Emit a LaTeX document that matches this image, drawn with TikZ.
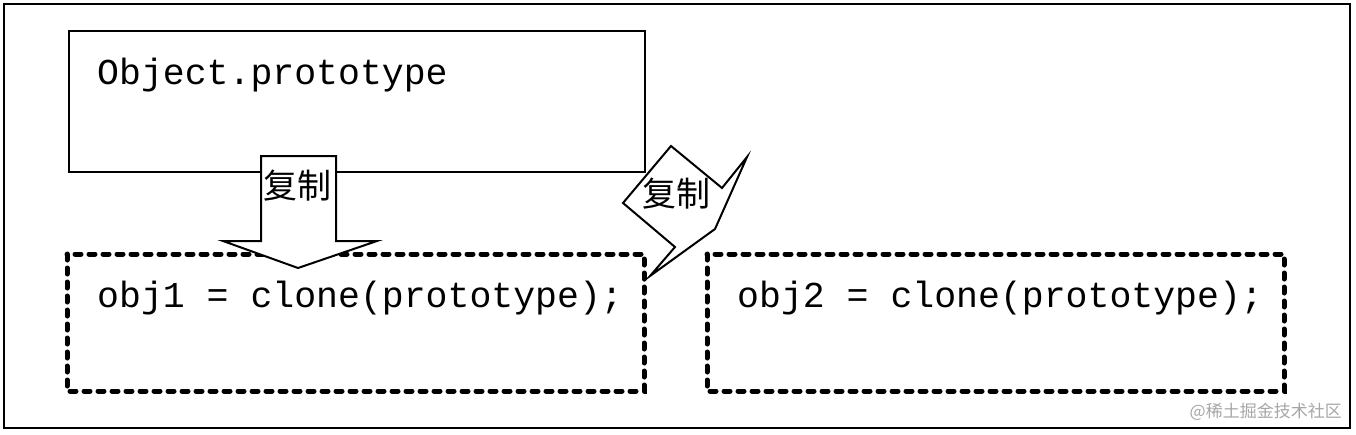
\documentclass[tikz,border=0pt]{standalone}
\usepackage{fontspec}
\setmonofont{Liberation Mono}
\newfontfamily\cjk{Noto Sans CJK SC}
\begin{document}
\begin{tikzpicture}[x=1pt,y=-1pt,
  solidbox/.style={draw=black,line width=2pt,fill=white},
  dashbox/.style={draw=black,line width=5pt,line cap=round,dash pattern=on 6pt off 8pt},
  shapeline/.style={draw=black,line width=2pt,fill=white,line join=miter},
  codetext/.style={font=\ttfamily\fontsize{36.5}{40}\selectfont,anchor=base west,inner sep=0pt},
  cjktext/.style={font=\cjk\fontsize{34}{38}\selectfont,inner sep=0pt},
  wmark/.style={font=\cjk\fontsize{17}{20}\selectfont,text=black!35,inner sep=0pt,anchor=base east}]
\useasboundingbox (0,0) rectangle (1356,434);
\draw[line width=2.5pt] (4,4) rectangle (1350,428);
% Object.prototype box
\draw[solidbox] (69,31) rectangle (645,172);
\node[codetext] (proto) at (97,84) {Object.prototype};
% dashed boxes
\draw[dashbox] (67,254) rectangle (644,391);
\node[codetext] (obj1) at (97,307) {obj1 = clone(prototype);};
\draw[dashbox] (707,254) rectangle (1284,391);
\node[codetext] (obj2) at (737,307) {obj2 = clone(prototype);};
% down arrow
\draw[shapeline] (261,156) -- (336,156) -- (336,241) -- (377,241) -- (298,268) -- (223,241) -- (261,241) -- cycle;
\node[cjktext] (copy1) at (297,186) {复制};
% callout
\draw[shapeline] (671,146) -- (722,188) -- (747,157) -- (715,229) -- (650,276) -- (675,247) -- (623,203) -- cycle;
\node[cjktext] (copy2) at (676,194) {复制};
% watermark
\node[wmark] (wm) at (1342,417) {@稀土掘金技术社区};
\end{tikzpicture}
\end{document}
